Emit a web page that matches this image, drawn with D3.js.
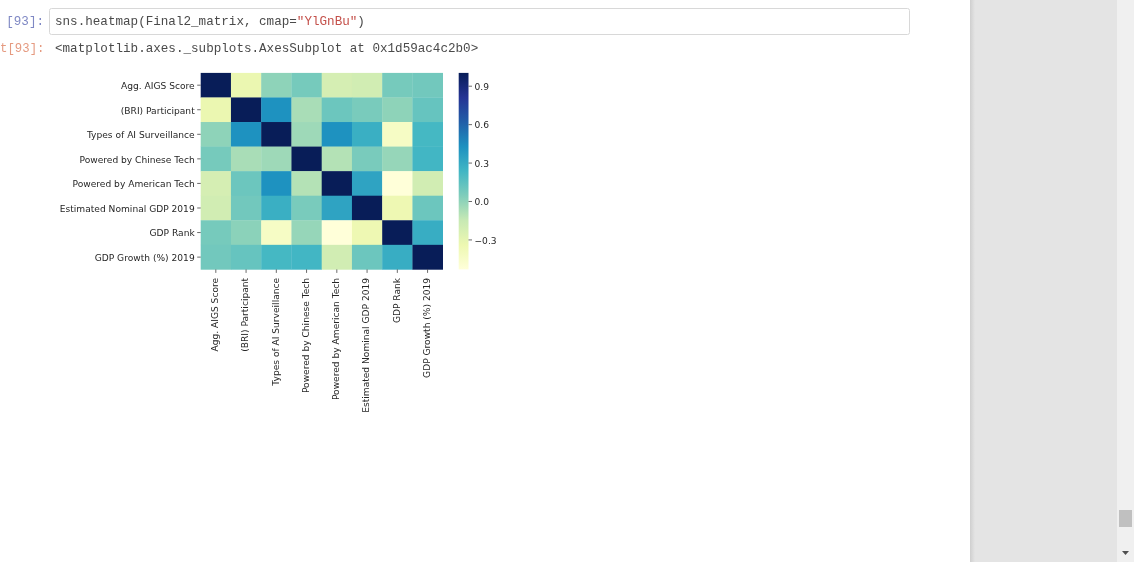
<!DOCTYPE html>
<html><head><meta charset="utf-8">
<script src="https://cdn.jsdelivr.net/npm/d3@7"></script>
<style>html,body{margin:0;padding:0;background:#fff;overflow:hidden}svg{display:block}
.blur{filter:blur(0.55px)}.soft{filter:blur(0.25px)}</style></head><body>
<svg id="c" width="1134" height="562"></svg>
<script>
const labels = ["Agg. AIGS Score","(BRI) Participant","Types of AI Surveillance","Powered by Chinese Tech","Powered by American Tech","Estimated Nominal GDP 2019","GDP Rank","GDP Growth (%) 2019"];
const row0 = [1,-0.33,0.0,0.07,-0.22,-0.2,0.07,0.08];
const row1 = [-0.33,1,0.42,-0.07,0.1,0.06,0.0,0.12];
const row2 = [0.0,0.42,1,-0.04,0.42,0.27,-0.44,0.22];
const row3 = [0.07,-0.07,-0.04,1,-0.1,0.06,-0.02,0.23];
const row4 = [-0.22,0.1,0.42,-0.1,1,0.33,-0.534,-0.2];
const row5 = [-0.2,0.08,0.27,0.06,0.33,1,-0.35,0.1];
const row6 = [0.07,0.01,-0.44,-0.02,-0.534,-0.35,1,0.28];
const row7 = [0.08,0.12,0.22,0.23,-0.2,0.1,0.28,1];
const matrix = [row0,row1,row2,row3,row4,row5,row6,row7];
const cbTicks = [-0.3,0,0.3,0.6,0.9];
const ylgnbu = ["#ffffd9","#edf8b1","#c7e9b4","#7fcdbb","#41b6c4","#1d91c0","#225ea8","#253494","#081d58"];
const vMin = -0.534, vMax = 1;

const svg = d3.select("#c");
const mono = "'Liberation Mono',monospace";
const sans = "'DejaVu Sans',sans-serif";

// notebook chrome
svg.append("rect").attr("x",49.5).attr("y",8.5).attr("width",860).attr("height",26).attr("rx",2).attr("fill","#fff").attr("stroke","#d8d8d8");
const t = svg.append("g").attr("class","soft");
t.append("text").attr("x",44).attr("y",25).attr("text-anchor","end").attr("font-family",mono).attr("font-size",12.6).attr("fill","#7f88c4").text("[93]:");
t.append("text").attr("x",44.4).attr("y",52).attr("text-anchor","end").attr("font-family",mono).attr("font-size",12.3).attr("fill","#e59a80").text("t[93]:");
const code = t.append("text").attr("x",55).attr("y",25).attr("font-family",mono).attr("font-size",12.6).attr("fill","#4a4a4a");
code.append("tspan").text('sns.heatmap(Final2_matrix, cmap=');
code.append("tspan").attr("fill","#c4504a").text('"YlGnBu"');
code.append("tspan").text(')');
t.append("text").attr("x",55).attr("y",52).attr("font-family",mono).attr("font-size",12.6).attr("fill","#4a4a4a").text("<matplotlib.axes._subplots.AxesSubplot at 0x1d59ac4c2b0>");

// right side panel and scrollbar
const defs = svg.append("defs");
const sh = defs.append("linearGradient").attr("id","sh");
sh.append("stop").attr("offset",0).attr("stop-color","#cfcfcf");
sh.append("stop").attr("offset",1).attr("stop-color","#e4e4e4");
svg.append("rect").attr("x",970).attr("y",0).attr("width",147).attr("height",562).attr("fill","#e4e4e4");
svg.append("rect").attr("x",970).attr("y",0).attr("width",5).attr("height",562).attr("fill","url(#sh)");
svg.append("rect").attr("x",1117).attr("y",0).attr("width",17).attr("height",562).attr("fill","#f0f0f0");
svg.append("rect").attr("x",1119).attr("y",510).attr("width",13).attr("height",17).attr("fill","#c0c0c0");
svg.append("path").attr("d","M1122 551h7l-3.5 4z").attr("fill","#505050");

// heatmap
const colorScale = d3.scaleLinear()
  .domain(ylgnbu.map((_,i)=>vMin+(vMax-vMin)*i/(ylgnbu.length-1)))
  .range(ylgnbu).clamp(true);
const x = d3.scaleBand().domain(d3.range(8)).range([200.7,442.7]);
const y = d3.scaleBand().domain(d3.range(8)).range([72.9,269.4]);
const g = svg.append("g").attr("class","blur");
g.selectAll("g.r").data(matrix).join("g").attr("class","r")
 .selectAll("rect").data((d,i)=>d.map((v,j)=>({v,i,j}))).join("rect")
 .attr("x",d=>x(d.j)).attr("y",d=>y(d.i)).attr("width",x.bandwidth()+0.3).attr("height",y.bandwidth()+0.3)
 .attr("fill",d=>colorScale(d.v));

function styleAxis(a){
  a.select(".domain").remove();
  a.selectAll("line").attr("stroke","#444").attr("stroke-width",0.8);
  a.selectAll("text").attr("fill","#262626").attr("font-family",sans).attr("font-size",9.1);
}
const ax = g.append("g").attr("transform","translate(0,269.4)")
  .call(d3.axisBottom(x).tickSize(3.5).tickPadding(3).tickFormat(i=>labels[i])).call(styleAxis);
ax.selectAll("text").attr("transform","rotate(-90)").attr("text-anchor","end").attr("dy","0.35em").attr("x",-8.5).attr("y",-1);
const ay = g.append("g").attr("transform","translate(200.7,0)")
  .call(d3.axisLeft(y).tickSize(3.5).tickPadding(2.5).tickFormat(i=>labels[i])).call(styleAxis);
ay.selectAll("text").attr("dy","0.42em");

// colorbar
const cb = d3.scaleLinear().domain([vMin,vMax]).range([269.4,72.9]);
const grad = defs.append("linearGradient").attr("id","cbg").attr("x1",0).attr("y1",1).attr("x2",0).attr("y2",0);
ylgnbu.forEach((c,i)=>grad.append("stop").attr("offset",i/(ylgnbu.length-1)).attr("stop-color",c));
g.append("rect").attr("x",458.7).attr("y",cb(vMax)).attr("width",9.8).attr("height",cb(vMin)-cb(vMax)).attr("fill","url(#cbg)");
const ac = g.append("g").attr("transform","translate(468.5,0)")
  .call(d3.axisRight(cb).tickValues(cbTicks).tickSize(3.5).tickPadding(2.5).tickFormat(v=>d3.format(".1f")(v).replace("-","\u2212"))).call(styleAxis);
ac.selectAll("text").attr("dy","0.42em");
</script></body></html>
